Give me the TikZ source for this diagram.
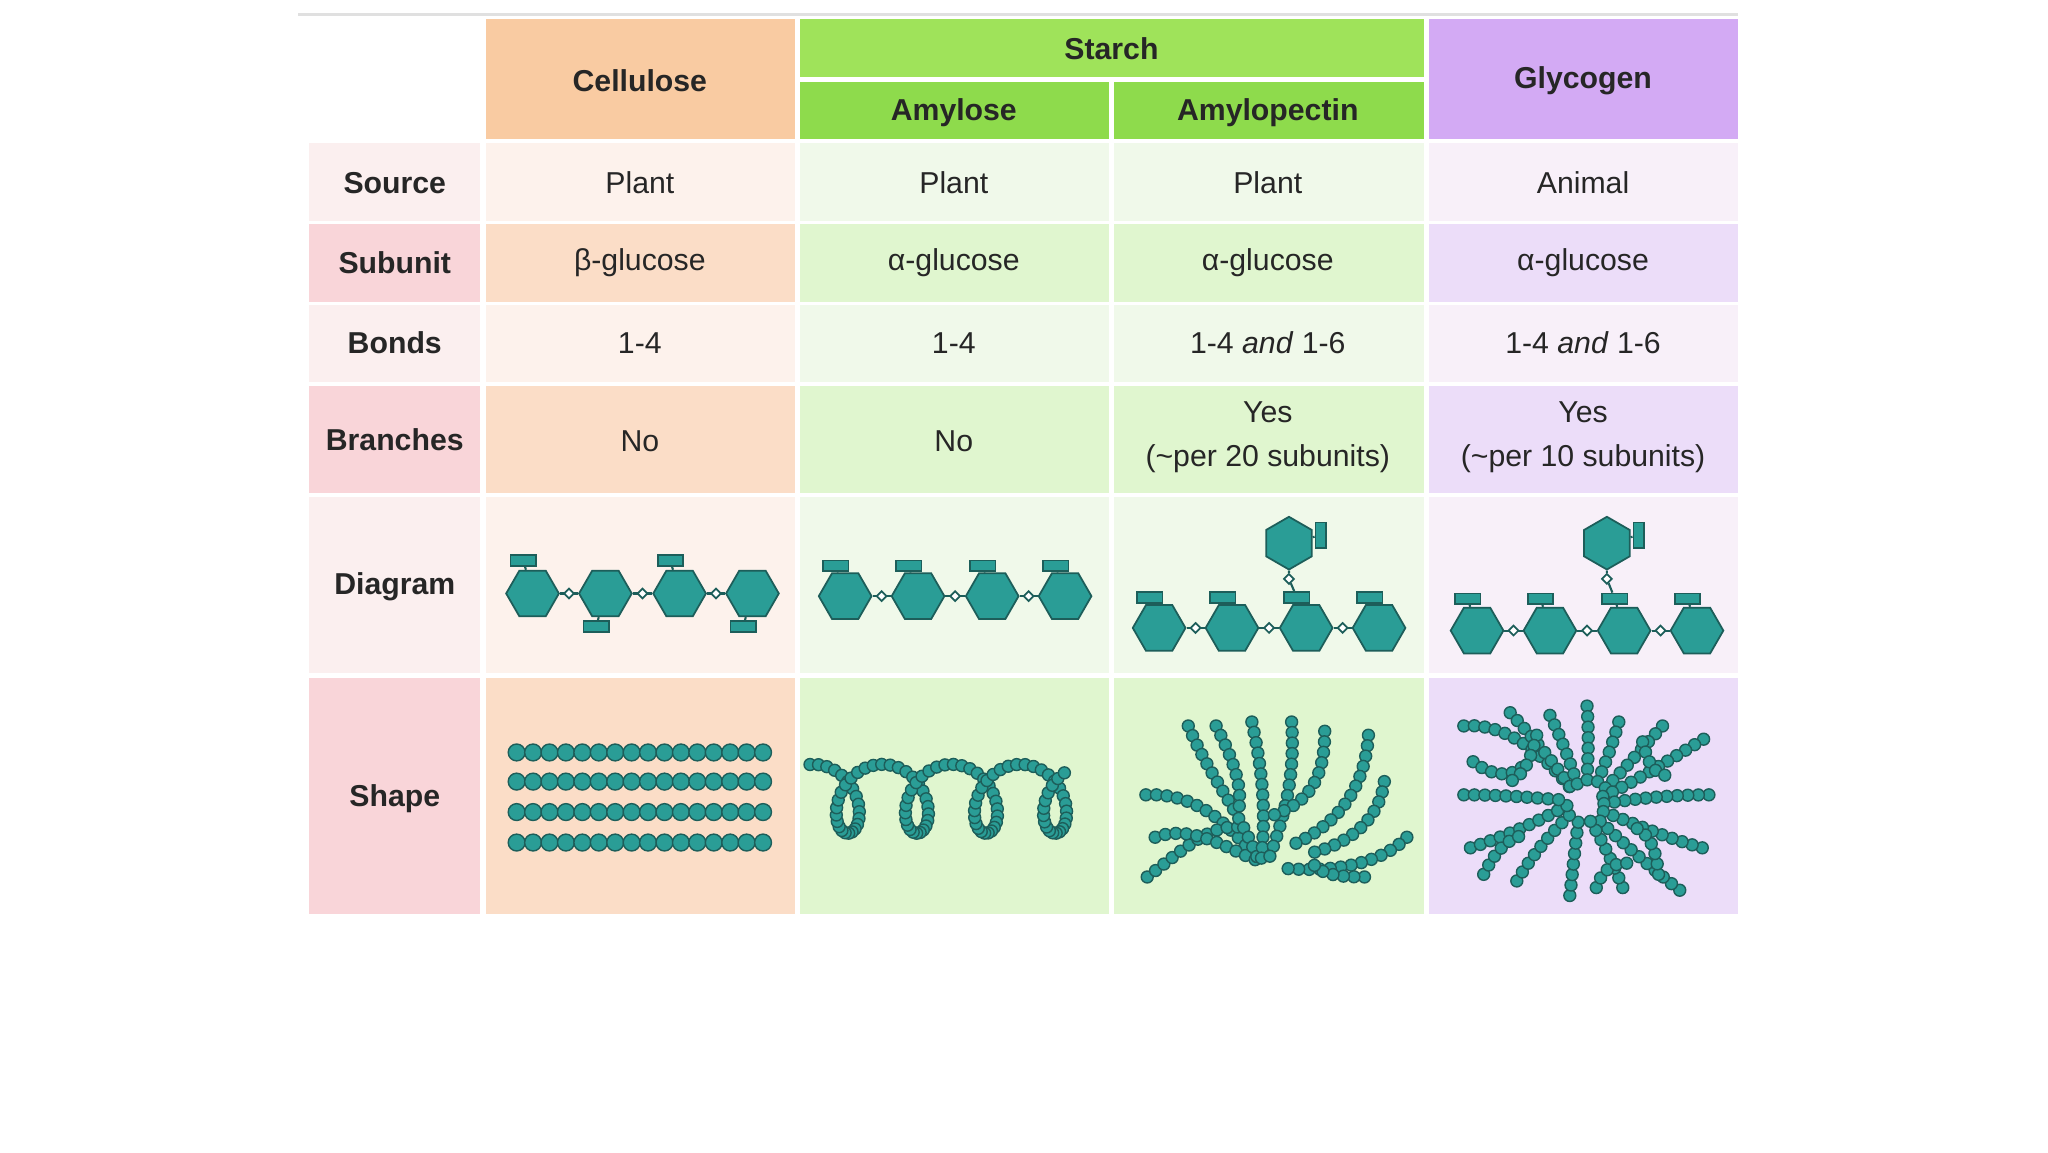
\documentclass[tikz,border=0pt]{standalone}
\usepackage{fontspec}
\setmainfont{Liberation Sans}
\usetikzlibrary{shapes.geometric,decorations.markings}
\definecolor{teal1}{HTML}{2A9D96}
\definecolor{tealdk}{HTML}{1D5E5A}
\definecolor{celH}{HTML}{F9CBA2}
\definecolor{celS}{HTML}{FBDDC7}
\definecolor{celL}{HTML}{FDF2EC}
\definecolor{staH}{HTML}{9FE35A}
\definecolor{amyH}{HTML}{8EDB4C}
\definecolor{staS}{HTML}{E0F6CF}
\definecolor{staL}{HTML}{F0F9EA}
\definecolor{glyH}{HTML}{D3AAF4}
\definecolor{glyS}{HTML}{ECDDF9}
\definecolor{glyL}{HTML}{F8F0F9}
\definecolor{labS}{HTML}{F9D5D9}
\definecolor{labL}{HTML}{FBEFEF}
\tikzset{
  txt/.style={font=\fontsize{8.6}{10.5}\selectfont, align=center, text=black!85},
  head/.style={txt, font=\fontsize{8.6}{10.5}\selectfont\bfseries},
  glc/.style={regular polygon, regular polygon sides=6, minimum size=15pt, inner sep=0pt, fill=teal1, draw=tealdk, line width=0.5pt},
  tab/.style={rectangle, minimum width=7.2pt, minimum height=3pt, inner sep=0pt, fill=teal1, draw=tealdk, line width=0.5pt},
  vtab/.style={tab, minimum width=3pt, minimum height=7.2pt},
  lnk/.style={diamond, minimum size=3pt, inner sep=0pt, fill=white, draw=tealdk, line width=0.5pt},
  bond/.style={draw=tealdk, line width=0.6pt},
  bead/.style={circle, minimum size=3.4pt, inner sep=0pt, fill=teal1, draw=tealdk, line width=0.4pt},
  bigbead/.style={bead, minimum size=4.8pt},
  beads/.style={decoration={markings, mark=between positions 0 and 1 step 3pt with {\node[bead]{};}}, decorate},
}
\begin{document}
\begin{tikzpicture}[x=0.01325cm, y=-0.01325cm]
\useasboundingbox (0,0) rectangle (1546,870);
\draw[black!12, line width=0.8pt] (225,11) -- (1312,11);
% header cells
\fill[celH] (367,14) rectangle (600,105);
\fill[staH] (604,14) rectangle (1075,58);
\fill[amyH] (604,62) rectangle (837,105);
\fill[amyH] (841,62) rectangle (1075,105);
\fill[glyH] (1079,14) rectangle (1312,105);
% body cells
\foreach \ya/\yb/\sty in {108/167/L, 169/228/S, 230/288/L, 291/372/S, 375/508/L, 512/690/S} {
  \fill[lab\sty] (233,\ya) rectangle (362,\yb);
  \fill[cel\sty] (367,\ya) rectangle (600,\yb);
  \fill[sta\sty] (604,\ya) rectangle (837,\yb);
  \fill[sta\sty] (841,\ya) rectangle (1075,\yb);
  \fill[gly\sty] (1079,\ya) rectangle (1312,\yb);
}
% headers
\node[head] (hCel) at (483,61) {Cellulose};
\node[head] (hSta) at (839,37) {Starch};
\node[head] (hAmy) at (720,85) {Amylose};
\node[head] (hAmp) at (957,85) {Amylopectin};
\node[head] (hGly) at (1195,61) {Glycogen};
% row labels
\node[head] (lSrc) at (298,138) {Source};
\node[head] (lSub) at (298,198) {Subunit};
\node[head] (lBnd) at (298,259) {Bonds};
\node[head] (lBr) at (298,332) {Branches};
\node[head] (lDia) at (298,443) {Diagram};
\node[head] (lShp) at (298,603) {Shape};
% entries
\node[txt] (cSrc) at (483,138) {Plant};
\node[txt] (aSrc) at (720,138) {Plant};
\node[txt] (pSrc) at (957,138) {Plant};
\node[txt] (gSrc) at (1195,138) {Animal};
\node[txt] (cSub) at (483,198) {β-glucose};
\node[txt] (aSub) at (720,198) {α-glucose};
\node[txt] (pSub) at (957,198) {α-glucose};
\node[txt] (gSub) at (1195,198) {α-glucose};
\node[txt] (cBnd) at (483,259) {1-4};
\node[txt] (aBnd) at (720,259) {1-4};
\node[txt] (pBnd) at (957,259) {1-4 \emph{and} 1-6};
\node[txt] (gBnd) at (1195,259) {1-4 \emph{and} 1-6};
\node[txt] (cBr) at (483,333) {No};
\node[txt] (aBr) at (720,333) {No};
\node[txt, font=\fontsize{8.6}{12.5}\selectfont] (pBr) at (957,330) {Yes\\(\textasciitilde per 20 subunits)};
\node[txt, font=\fontsize{8.6}{12.5}\selectfont] (gBr) at (1195,330) {Yes\\(\textasciitilde per 10 subunits)};
% diagram: cellulose
\foreach \i/\x/\d in {1/402/-1, 2/457/1, 3/513/-1, 4/568/1} {
  \node[glc] (c\i) at (\x,448) {};
  \node[tab] (ct\i) at (\x-7,448+25*\d) {};
  \draw[bond] (c\i) -- (ct\i);
}
% diagram: amylose
\foreach \i/\x in {1/638, 2/693, 3/749, 4/804} {
  \node[glc] (a\i) at (\x,450) {};
  \node[tab] (at\i) at (\x-7,427) {};
  \draw[bond] (a\i) -- (at\i);
}
% diagram: amylopectin and glycogen
\foreach \i/\x in {1/875, 2/930, 3/986, 4/1041} {
  \node[glc] (p\i) at (\x,474) {};
  \node[tab] (pt\i) at (\x-7,451) {};
  \draw[bond] (p\i) -- (pt\i);
}
\foreach \i/\x in {1/1115, 2/1170, 3/1226, 4/1281} {
  \node[glc] (g\i) at (\x,476) {};
  \node[tab] (gt\i) at (\x-7,452) {};
  \draw[bond] (g\i) -- (gt\i);
}
\foreach \s in {c, a, p, g} {
  \foreach \i/\j in {1/2, 2/3, 3/4} {
    \draw[bond] (\s\i) -- (\s\j) node[lnk, midway] {};
  }
}
\node[glc, rotate=90] (pB) at (973,410) {};
\node[vtab] (pBt) at (997,404) {};
\node[lnk] (pBl) at (973,437) {};
\draw[bond] (pB) -- (pBl) -- (pt3);
\draw[bond] (pB) -- (pBt);
\node[glc, rotate=90] (gB) at (1213,410) {};
\node[vtab] (gBt) at (1237,404) {};
\node[lnk] (gBl) at (1213,437) {};
\draw[bond] (gB) -- (gBl) -- (gt3);
\draw[bond] (gB) -- (gBt);
% shape: cellulose
\foreach \y in {568, 590, 613, 636} {
  \draw[tealdk!60, line width=0.3pt] (390,\y) -- (576,\y);
  \foreach \k in {0,...,15} \node[bigbead] at (390+12.4*\k,\y) {};
}
% shape: amylose
\foreach \t in {-185,-172,...,1230}
  \node[bead] at ({640+8.3*rad(\t)-20*sin(\t)},{603+26*cos(\t)}) {};
% shape: amylopectin
\foreach \e in {{(865,600) .. controls (905,598) and (930,625) .. (950,650)},
                {(866,662) .. controls (895,640) and (915,620) .. (940,625)},
                {(872,632) .. controls (900,622) and (925,640) .. (950,650)},
                {(897,548) .. controls (915,590) and (935,610) .. (950,650)},
                {(918,548) .. controls (932,575) and (938,595) .. (935,612)},
                {(945,545) .. controls (955,590) and (955,620) .. (952,650)},
                {(975,545) .. controls (978,590) and (968,620) .. (958,648)},
                {(1000,552) .. controls (1000,585) and (990,605) .. (962,615)},
                {(1033,555) .. controls (1030,600) and (1005,625) .. (975,638)},
                {(1045,590) .. controls (1040,625) and (1010,640) .. (985,645)},
                {(1062,632) .. controls (1045,650) and (1010,660) .. (965,655)},
                {(1030,662) .. controls (1010,662) and (995,660) .. (990,650)}} {
  \path[beads] \e;
}
% shape: glycogen
\foreach \e in {{(1105,548) .. controls (1140,545) and (1170,575) .. (1188,598)},
                {(1140,538) .. controls (1160,560) and (1175,578) .. (1188,598)},
                {(1170,540) .. controls (1180,560) and (1186,578) .. (1192,596)},
                {(1198,533) .. controls (1200,560) and (1198,580) .. (1198,595)},
                {(1222,545) .. controls (1215,570) and (1208,585) .. (1203,597)},
                {(1255,548) .. controls (1235,570) and (1220,588) .. (1206,600)},
                {(1286,558) .. controls (1250,580) and (1225,595) .. (1208,602)},
                {(1290,600) .. controls (1255,600) and (1228,604) .. (1208,607)},
                {(1285,640) .. controls (1250,630) and (1225,618) .. (1206,611)},
                {(1268,672) .. controls (1240,650) and (1218,630) .. (1203,615)},
                {(1225,670) .. controls (1215,645) and (1206,628) .. (1198,616)},
                {(1185,676) .. controls (1188,650) and (1190,630) .. (1192,616)},
                {(1145,665) .. controls (1160,640) and (1175,625) .. (1187,613)},
                {(1110,640) .. controls (1140,630) and (1165,618) .. (1183,608)},
                {(1105,600) .. controls (1140,600) and (1165,603) .. (1182,604)},
                {(1112,575) .. controls (1125,585) and (1140,588) .. (1150,578)},
                {(1120,660) .. controls (1130,640) and (1140,632) .. (1152,630)},
                {(1240,560) .. controls (1245,580) and (1250,585) .. (1262,586)},
                {(1252,660) .. controls (1250,640) and (1245,630) .. (1235,625)},
                {(1205,670) .. controls (1210,655) and (1220,650) .. (1232,652)},
                {(1160,555) .. controls (1155,575) and (1150,585) .. (1140,590)}} {
  \path[beads] \e;
}
\end{tikzpicture}
\end{document}
